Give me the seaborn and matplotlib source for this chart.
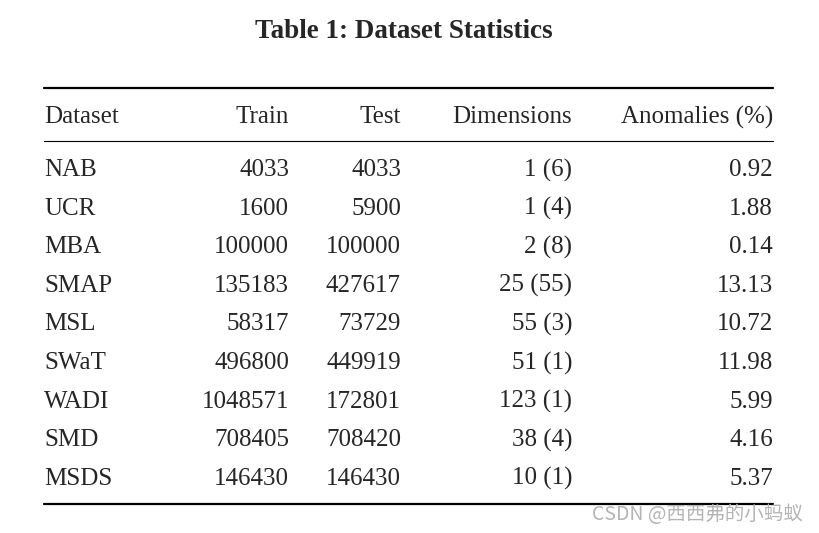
import matplotlib.pyplot as plt
import seaborn as sns

datasets = ["NAB", "UCR", "MBA", "SMAP", "MSL", "SWaT", "WADI", "SMD", "MSDS"]
train = [4033, 1600, 100000, 135183, 58317, 496800, 1048571, 708405, 146430]
test = [4033, 5900, 100000, 427617, 73729, 449919, 172801, 708420, 146430]
dimensions = ["1 (6)", "1 (4)", "2 (8)", "25 (55)", "55 (3)", "51 (1)", "123 (1)", "38 (4)", "10 (1)"]
anomalies = [0.92, 1.88, 0.14, 13.13, 10.72, 11.98, 5.99, 4.16, 5.37]
headers = ["Dataset", "Train", "Test", "Dimensions", "Anomalies (%)"]

sns.set_theme(style="white")
plt.rcParams["font.family"] = ["Liberation Serif", "DejaVu Serif"]

fig = plt.figure(figsize=(8.19, 5.33), dpi=100)
ax = fig.add_axes([0, 0, 1, 1])
ax.set_xlim(0, 819)
ax.set_ylim(533, 0)
ax.axis("off")

left, right = 44, 773
col_x = [44, 289, 401, 572, 773]
col_ha = ["left", "right", "right", "right", "right"]
fs = 18

ax.text(404, 32, "Table 1: Dataset Statistics", ha="center", va="center",
        fontsize=19.5, fontweight="bold")

ax.plot([left, right], [88, 88], color="black", lw=1.6)
ax.plot([left, right], [141, 141], color="black", lw=0.8)
ax.plot([left, right], [504, 504], color="black", lw=1.6)

for x, ha, h in zip(col_x, col_ha, headers):
    ax.text(x, 117, h, ha=ha, va="center", fontsize=fs)

row_y0, row_step = 170, 38.6
for i in range(len(datasets)):
    y = row_y0 + i * row_step
    vals = [datasets[i], str(train[i]), str(test[i]), dimensions[i], f"{anomalies[i]:.2f}"]
    for x, ha, v in zip(col_x, col_ha, vals):
        ax.text(x, y, v, ha=ha, va="center", fontsize=fs)

ax.text(803, 514, "CSDN @西西弗的小蚂蚁", ha="right", va="center", fontsize=14,
        color="#b4b4b4", family=["Noto Sans CJK SC", "DejaVu Sans"])

fig.savefig("out.png", dpi=100)
